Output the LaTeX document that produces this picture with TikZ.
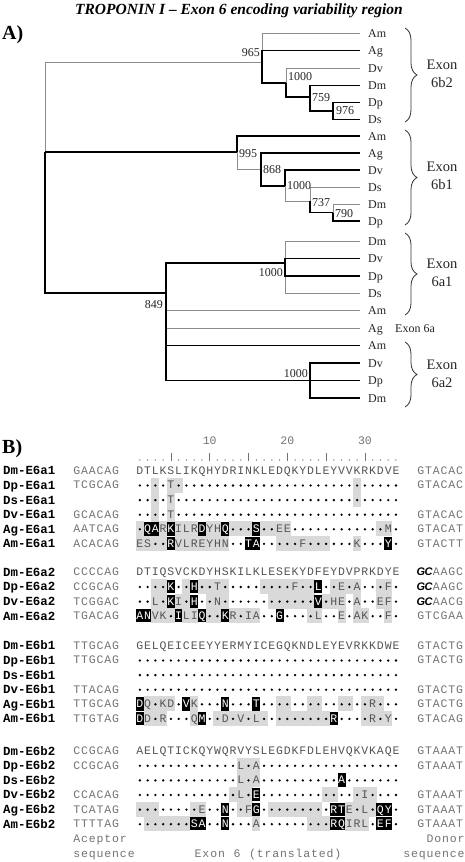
\documentclass[tikz,border=0pt]{standalone}
\usepackage{fontspec}
\setmainfont{Liberation Serif}
\newfontfamily\monof{Liberation Mono}
\newfontfamily\sansf{Liberation Sans}
\usetikzlibrary{decorations.pathreplacing}
\definecolor{shadeg}{gray}{0.85}
\definecolor{seqtxt}{gray}{0.33}
\definecolor{acctxt}{gray}{0.45}
\definecolor{brgray}{gray}{0.55}
\definecolor{lbltxt}{gray}{0.15}

\newcount\sqcol
\newcount\sqnc
\def\sqempty{}
\def\sqdotc{.}
\def\sqspc{_}
\def\sqg{g}
\def\sqk{k}
\newcommand\sqrow[5]{%
  \sqcol=0
  \def\sqx{#1}\def\sqy{#2}\def\sqT{#3}\def\sqM{#4}\def\sqcolr{#5}%
  \sqloop}
\def\sqloop{%
  \ifx\sqT\sqempty\else
    \expandafter\sqpopT\sqT\relax
    \ifx\sqM\sqempty\def\sqm{.}\else\expandafter\sqpopM\sqM\relax\fi
    \advance\sqcol by 1
    \sqcell
    \expandafter\sqloop
  \fi}
\def\sqpopT#1#2\relax{\def\sqc{#1}\def\sqT{#2}}
\def\sqpopM#1#2\relax{\def\sqm{#1}\def\sqM{#2}}
\def\sqcell{%
  \pgfmathsetmacro\sqcx{\sqx+7.76*(\the\sqcol-0.5)}%
  \ifx\sqm\sqg
    \fill[shadeg] (\sqcx-4.0,\sqy-7.45) rectangle (\sqcx+4.0,\sqy+7.45);
  \fi
  \ifx\sqm\sqk
    \fill[black] (\sqcx-3.95,\sqy-6.6) rectangle (\sqcx+3.95,\sqy+6.6);
    \def\sqfg{white}\def\sqdc{white}%
  \else
    \edef\sqfg{\sqcolr}\def\sqdc{black}%
  \fi
  \global\advance\sqnc by 1
  \ifx\sqc\sqdotc
    \fill[fill=\sqdc] (\sqcx,\sqy+0.4) circle[radius=1.3pt];
  \else\ifx\sqc\sqspc\else
    \node[seqch, text=\sqfg] (q\the\sqnc) at (\sqcx,\sqy+3.8) {\sqc};
  \fi\fi}
\newcommand\alnrow[6]{%
  \node[nm] (#2) at (3,#1+4.3) {#2};%
  \sqrow{73}{#1}{#3}{}{acctxt}%
  \sqrow{136}{#1}{#4}{#5}{seqtxt}%
  \sqrow{417}{#1}{#6}{}{acctxt}}
\newcommand\gcpair[2]{%
  \node[gcst] (#2a) at (420.88,#1+3.8) {G};
  \node[gcst] (#2b) at (428.64,#1+3.8) {C};}

\tikzset{
  seqch/.style={inner sep=0pt, anchor=base, font=\monof\fontsize{11.5}{12}\selectfont},
  gcst/.style={inner sep=0pt, anchor=base, font=\sansf\bfseries\itshape\fontsize{11}{12}\selectfont, text=black},
  nm/.style={inner sep=0pt, anchor=base west, font=\monof\bfseries\fontsize{12.4}{13}\selectfont, text=black},
  br/.style={line width=1.3pt, black},
  brg/.style={line width=1pt, brgray},
  leaf/.style={inner sep=0pt, anchor=base west, font=\fontsize{12}{13}\selectfont, text=lbltxt},
  bsl/.style={inner sep=0pt, font=\fontsize{12}{13}\selectfont, text=black!85},
  exl/.style={inner sep=0pt, anchor=base, font=\fontsize{14.5}{15}\selectfont, text=black!85},
  brc/.style={decorate, decoration={brace, amplitude=12pt}, line width=0.8pt, black!80},
}

\begin{document}
\begin{tikzpicture}[x=1pt,y=-1pt]
\fill[white] (0,0) rectangle (464,862);
\useasboundingbox (0,0) rectangle (464,862);

% ---------- titles ----------
\node[inner sep=0pt, anchor=base, font=\bfseries\itshape\fontsize{15.5}{16}\selectfont] (title) at (239,14) {TROPONIN I – Exon 6 encoding variability region};
\node[inner sep=0pt, anchor=base west, font=\bfseries\fontsize{20}{20}\selectfont] (pA) at (2,39) {A)};
\node[inner sep=0pt, anchor=base west, font=\bfseries\fontsize{20}{20}\selectfont] (pB) at (2,453) {B)};

% ---------- tree: leaves ----------
\foreach \n/\y/\lab in {0/33/Am,1/50.5/Ag,2/68/Dv,3/85.5/Dm,4/102.5/Dp,5/119.5/Ds,
  6/136/Am,7/153/Ag,8/170/Dv,9/187/Ds,10/204/Dm,11/221/Dp,
  12/241/Dm,13/258.5/Dv,14/276/Dp,15/293/Ds,16/310.5/Am,17/328/Ag,18/345.5/Am,
  19/363/Dv,20/380.5/Dp,21/398/Dm}{
  \coordinate (e\n) at (360,\y);
  \node[leaf] (l\n) at (368,\y+4) {\lab};
}
% internal nodes
\coordinate (root) at (45,152);
\coordinate (n965) at (262,62);
\coordinate (n1000a) at (286,83);
\coordinate (n759) at (310,97);
\coordinate (n976) at (333,111);
\coordinate (n995) at (237,152);
\coordinate (n868) at (261,169);
\coordinate (n1000b) at (285,186);
\coordinate (n737) at (310,201);
\coordinate (n790) at (333,212.5);
\coordinate (n849) at (166,293);
\coordinate (n1000c) at (285,263);
\coordinate (n1000d) at (310,380.5);

% gray branches first
\draw[brg] (root) |- (n965);
\draw[brg] (n965) |- (e0);
\draw[brg] (n1000a) |- (e2);
\draw[brg] (n995) |- (n868);
\draw[brg] (n1000b) |- (n737);
\draw[brg] (n737) |- (e9);
\draw[brg] (n790) |- (e10);
\draw[brg] (n1000c) |- (e12);
\draw[brg] (n1000c) |- (e15);
\draw[brg] (n849) |- (e16);
\draw[brg] (n849) |- (e17);
% black branches
\draw[br] (n965) |- (e1);
\draw[br] (n965) |- (n1000a);
\draw[br] (n1000a) |- (n759);
\draw[br] (n759) |- (e3);
\draw[br] (n759) |- (n976);
\draw[br] (n976) |- (e4);
\draw[br] (n976) |- (e5);
\draw[br] (root) |- (n995);
\draw[br] (n995) |- (e6);
\draw[br] (n868) |- (e7);
\draw[br] (n868) |- (n1000b);
\draw[br] (n1000b) |- (e8);
\draw[br] (n737) |- (n790);
\draw[br] (n790) |- (e11);
\draw[br] (root) |- (n849);
\draw[br] (n849) |- (n1000c);
\draw[br] (n1000c) |- (e13);
\draw[br] (n1000c) |- (e14);
\draw[br] (n849) |- (e18);
\draw[br] (n849) |- (n1000d);
\draw[br] (n1000d) |- (e19);
\draw[br] (n1000d) |- (e20);
\draw[br] (n1000d) |- (e21);

% bootstrap values
\node[bsl, anchor=base east] (b965) at (260,56.5) {965};
\node[bsl, anchor=base west] (b1000a) at (288,80) {1000};
\node[bsl, anchor=base west] (b759) at (312,101) {759};
\node[bsl, anchor=base west] (b976) at (336,114.5) {976};
\node[bsl, anchor=base west] (b995) at (239,157) {995};
\node[bsl, anchor=base west] (b868) at (263,173) {868};
\node[bsl, anchor=base west] (b1000b) at (287,189.5) {1000};
\node[bsl, anchor=base west] (b737) at (312,206) {737};
\node[bsl, anchor=base west] (b790) at (335,217) {790};
\node[bsl, anchor=base east] (b1000c) at (283,276) {1000};
\node[bsl, anchor=base east] (b849) at (163,308) {849};
\node[bsl, anchor=base east] (b1000d) at (308,377) {1000};

% braces
\coordinate (bA1) at (405,28);  \coordinate (bA2) at (405,122);
\coordinate (bB1) at (405,130); \coordinate (bB2) at (405,225);
\coordinate (bC1) at (405,233); \coordinate (bC2) at (405,315);
\coordinate (bD1) at (405,342); \coordinate (bD2) at (405,407);
\draw[brc] (bA1) -- (bA2);
\draw[brc] (bB1) -- (bB2);
\draw[brc] (bC1) -- (bC2);
\draw[brc] (bD1) -- (bD2);
\node[exl] (xA1) at (442,69.6) {Exon};
\node[exl] (xA2) at (442,87.6) {6b2};
\node[exl] (xB1) at (442,171.6) {Exon};
\node[exl] (xB2) at (442,189.6) {6b1};
\node[exl] (xC1) at (442,268.6) {Exon};
\node[exl] (xC2) at (442,286.6) {6a1};
\node[exl] (xD1) at (442,369.6) {Exon};
\node[exl] (xD2) at (442,387.6) {6a2};
\node[leaf] (x6a) at (395,332) {Exon 6a};

% ---------- B: ruler ----------
\foreach \i in {1,2,3,4,6,7,8,9,11,12,13,14,16,17,18,19,21,22,23,24,26,27,28,29,31,32,33,34}
  \fill[black!55] (136+7.76*\i-3.88,460) circle[radius=0.75pt];
\foreach \i in {5,10,15,20,25,30}
  \draw[black!55, line width=0.6pt] (136+7.76*\i-3.88,452.5) -- (136+7.76*\i-3.88,461);
\node[seqch, text=black!55] (r10) at (136+7.76*9.5,444) {10};
\node[seqch, text=black!55] (r20) at (136+7.76*19.5,444) {20};
\node[seqch, text=black!55] (r30) at (136+7.76*29.5,444) {30};

% ---------- group E6a1 ----------
\alnrow{470.5}{Dm-E6a1}{GAACAG}{DTLKS LIKQH YDRIN KLEDQ KYDLE YVVKR KDVE}{}{GTACAC}
\alnrow{485.1}{Dp-E6a1}{TCGCAG}{....T ..... ..... ..... ..... ..... ....}{..g.g g.... ..... ..... ..... ...g.}{GTACAC}
\alnrow{499.7}{Ds-E6a1}{}{....T ..... ..... ..... ..... ..... ....}{..g.g ..... ..... ..... ..... ...g.}{}
\alnrow{514.3}{Dv-E6a1}{GCACAG}{....T ..... ..... ..... ..... ..... ....}{..g.g}{GTACAC}
\alnrow{528.9}{Ag-E6a1}{AATCAG}{.QARK ILRDY HQ... S..EE ..... ..... ..M.}{gkkgk gggkg gkggg kgggg ..... ..... .gg.}{GTACAT}
\alnrow{543.5}{Am-E6a1}{ACACAG}{ES..R VLREY HN..T A.... .F... ...K. ..Y.}{ggggk ggggg gg..k k..gg ggggg ...g. ..k.}{GTACTT}

% ---------- group E6a2 ----------
\alnrow{572}{Dm-E6a2}{CCCCAG}{DTIQS VCKDY HSKIL KLESE KYDFE YDVPR KDYE}{}{__AAGC}
\alnrow{586.6}{Dp-E6a2}{CCGCAG}{....K ..H.. T.... ..... F..L. .E.A. ..F.}{..ggk .gkgg gg... .gggg gggk. gggg. .gg.}{__AAGC}
\alnrow{601.2}{Dv-E6a2}{TCGGAC}{..L.K I.H.. N.... ..... ...V. HE.A. .EF.}{..ggk ggk.g gg... ..ggg gggkg gg.g. .gg.}{__AACG}
\alnrow{615.8}{Am-E6a2}{TGACAG}{ANVK. ILIQ. .KR.I A..G. ...L. .E.AK ..F.}{kkggg kggkg gkggg g..k. ..gg. .g.gg ..g.}{GTCGAA}
\gcpair{572}{gcA}
\gcpair{586.6}{gcB}
\gcpair{601.2}{gcC}

% ---------- group E6b1 ----------
\alnrow{645.5}{Dm-E6b1}{TTGCAG}{GELQE ICEEY YERMY ICEGQ KNDLE YEVRK KDWE}{}{GTACTG}
\alnrow{660.1}{Dp-E6b1}{TTGCAG}{..... ..... ..... ..... ..... ..... ....}{}{GTACTG}
\alnrow{674.7}{Ds-E6b1}{}{..... ..... ..... ..... ..... ..... ....}{}{}
\alnrow{689.3}{Dv-E6b1}{TTACAG}{..... ..... ..... ..... ..... ..... ....}{}{GTACTG}
\alnrow{703.9}{Ag-E6b1}{TTGCAG}{DQ.KD .VK.. .N... T.... ..... ..... R...}{kgggg .kg.. .k... k..gg ..gg. .gg.g gg..}{GTACTG}
\alnrow{718.5}{Am-E6b1}{TTGTAG}{DD.R. ..QM. .D.V. L.... ..... R.... R.Y.}{kggg. ..gk. ggggg gg.gg ggggg k...g ggg.}{GTACAG}

% ---------- group E6b2 ----------
\alnrow{750.8}{Dm-E6b2}{CCGCAG}{AELQT ICKQY WQRVY SLEGD KFDLE HVQKV KAQE}{}{GTAAAT}
\alnrow{765.4}{Dp-E6b2}{CCGCAG}{..... ..... ...L. A.... ..... ..... ....}{..... ..... ...gg g}{GTAAAT}
\alnrow{780}{Ds-E6b2}{}{..... ..... ...L. A.... ..... .A... ....}{..... ..... ...gg g.... ..... .k}{}
\alnrow{794.6}{Dv-E6b2}{CCACAG}{..... ..... ...L. E.... ..... ....I ....}{..... ..... ..ggg k.... ....g g..gg g}{GTAAAT}
\alnrow{809.2}{Ag-E6b2}{TCATAG}{..... ...E. .N..F G.... ..... RTE.L .QY.}{ggg.. ..gg. .k.gg k.ggg gggg. kkggg gkk.}{GTAAAT}
\alnrow{823.8}{Am-E6b2}{TTTTAG}{..... ..SA. .N... A.... ..... RQIRL .EF.}{.gggg ggkk. .k... g.... ..ggg kkggg .kk.}{GTAAAT}

% ---------- footers ----------
\sqrow{73}{839}{Aceptor}{}{acctxt}
\sqrow{73}{854}{sequence}{}{acctxt}
\sqrow{194.3}{854}{Exon_6_(translated)}{}{acctxt}
\sqrow{426.2}{839}{Donor}{}{acctxt}
\sqrow{402.9}{854}{sequence}{}{acctxt}
\end{tikzpicture}
\end{document}
